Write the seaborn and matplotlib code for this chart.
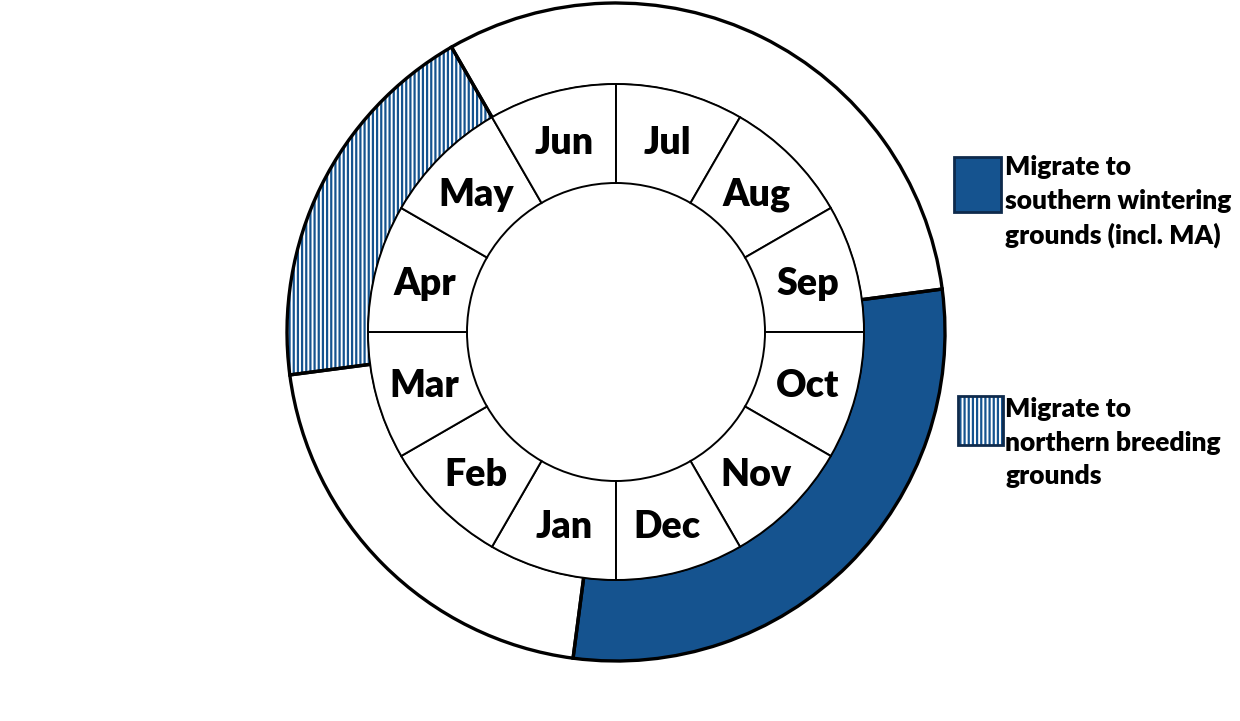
import matplotlib
matplotlib.use("Agg")
import matplotlib.pyplot as plt
import seaborn as sns
from matplotlib.patches import Rectangle

sns.set_theme(style="white")
plt.rcParams["font.family"] = ["Lato", "DejaVu Sans"]
plt.rcParams["hatch.linewidth"] = 1.6

# inner ring: one wedge per month, Jan starting at the bottom, clockwise
months = ["Jan", "Feb", "Mar", "Apr", "May", "Jun",
          "Jul", "Aug", "Sep", "Oct", "Nov", "Dec"]
month_share = [1] * 12

# outer ring, in months, starting at the end of May going clockwise
phase_names = ["resident_north", "to_south", "resident_south", "to_north"]
phase_months = [3.75, 3.5, 2.5, 2.25]

legend_labels = ["Migrate to\nsouthern wintering\ngrounds (incl. MA)",
                 "Migrate to\nnorthern breeding\ngrounds"]

blue = "#15538f"
navy = "#0e2a4c"

fig = plt.figure(figsize=(12.4, 7.21), dpi=100)
ax = fig.add_axes([0, 0, 1, 1])

cx, cy = 616, 721 - 332

# outer ring - fill pass (hatch colour comes from edgecolor)
fills = ["white", blue, "white", "white"]
hatch_edges = ["white", blue, "white", blue]
hatches = [None, None, None, "||||"]
outer, _ = ax.pie(phase_months, startangle=120, counterclock=False,
                  radius=329, center=(cx, cy),
                  wedgeprops=dict(width=82, linewidth=0))
for w, fc, ec, h in zip(outer, fills, hatch_edges, hatches):
    w.set_facecolor(fc)
    w.set_edgecolor(ec)
    w.set_hatch(h)

# outer ring - outline pass
ax.pie(phase_months, startangle=120, counterclock=False,
       radius=329, center=(cx, cy),
       wedgeprops=dict(width=82, facecolor="none", edgecolor="black",
                       linewidth=2.4))

# inner month ring
wedges, texts = ax.pie(month_share, labels=months, startangle=270,
                       counterclock=False, radius=248, center=(cx, cy),
                       labeldistance=0.8,
                       wedgeprops=dict(width=99, facecolor="white",
                                       edgecolor="black", linewidth=1.4))
for t in texts:
    t.set_horizontalalignment("center")
    t.set_verticalalignment("center")
    t.set_fontsize(27)
    t.set_fontweight("heavy")
    t.set_color("black")
    t.set_y(t.get_position()[1] - 3)

ax.set_xlim(0, 1240)
ax.set_ylim(0, 721)
ax.set_aspect("equal")
ax.axis("off")

# legend drawn by hand (handles sit at the top of each text block)
ax.add_patch(Rectangle((954, 721 - 212), 47, 55, facecolor=blue,
                       edgecolor=navy, linewidth=2))
ax.add_patch(Rectangle((958, 721 - 445), 45, 49, facecolor="white",
                       edgecolor=blue, hatch="||||", linewidth=0))
ax.add_patch(Rectangle((958, 721 - 445), 45, 49, facecolor="none",
                       edgecolor=navy, linewidth=2))
ax.text(1005, 721 - 155, legend_labels[0], ha="left", va="top",
        fontsize=19, fontweight="heavy", color="black", linespacing=1.48)
ax.text(1005, 721 - 397, legend_labels[1], ha="left", va="top",
        fontsize=19, fontweight="heavy", color="black", linespacing=1.48)

fig.savefig("out.png", dpi=100, facecolor="white")
